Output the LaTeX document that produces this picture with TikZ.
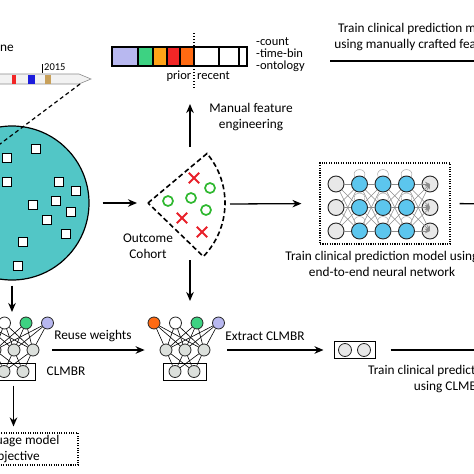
\documentclass[tikz,border=0pt]{standalone}
\usepackage{fontspec}
\setmainfont{Carlito}
\usetikzlibrary{arrows.meta,positioning,calc,shapes.misc}
\definecolor{poolteal}{HTML}{52C6C6}
\definecolor{lavend}{HTML}{B8B8F0}
\definecolor{codegreen}{HTML}{3DD282}
\definecolor{amber}{HTML}{FFA318}
\definecolor{codered}{HTML}{F22626}
\definecolor{codeorange}{HTML}{FF6A12}
\definecolor{codeblue}{HTML}{1C1CDC}
\definecolor{codetan}{HTML}{C8A05A}
\definecolor{unitblue}{HTML}{5CC6EE}
\definecolor{unitgrey}{HTML}{E8E8E8}
\definecolor{hiddengrey}{HTML}{DCE0DC}
\definecolor{casered}{HTML}{E8202A}
\definecolor{ctrlgreen}{HTML}{2FB830}
\tikzset{
  % Arrows and connectors
  flow/.style={-{Stealth[length=9pt,width=7.5pt]},line width=1.3pt},
  % Text
  lbl/.style={font=\fontsize{13.3}{16}\selectfont,align=center,inner sep=0pt},
  small/.style={font=\fontsize{12.5}{12}\selectfont,inner sep=0pt},
  % Patient pool
  pool/.style={circle,draw,line width=1.2pt,fill=poolteal,minimum size=154pt,inner sep=0pt},
  patient/.style={draw,line width=1pt,fill=white,minimum size=9pt,inner sep=0pt},
  % Feature vector cells
  cell/.style={draw,line width=1.2pt,minimum height=19pt,inner sep=0pt},
  % Cohort markers
  case/.style={cross out,draw=casered,line width=1.9pt,minimum size=8.5pt,inner sep=0pt},
  ctrl/.style={circle,draw=ctrlgreen,line width=1.7pt,minimum size=10pt,inner sep=0pt},
  % End-to-end network
  unit/.style={circle,draw=black!85,line width=0.9pt,minimum size=16pt,inner sep=0pt},
  wire/.style={black!45,line width=0.6pt},
  loopwire/.style={black!35,line width=0.5pt},
  dotbox/.style={draw,line width=1.1pt,dash pattern=on 1.1pt off 1.3pt,inner sep=0pt},
  % CLMBR
  cu/.style={circle,draw=black!85,line width=0.8pt,minimum size=12pt,inner sep=0pt},
  cwire/.style={black,line width=0.6pt},
  cbox/.style={draw,line width=1pt,minimum width=43pt,minimum height=17pt,inner sep=0pt}
}

\begin{document}
\begin{tikzpicture}[x=1pt,y=-1pt]
  \useasboundingbox (0,0) rectangle (474,474);

  % Timeline
  \node[lbl,anchor=east] (tltitle) at (14,47) {Timeline};
  \draw[draw=black!45,fill=black!5,line width=0.6pt]
    (-10,74) -- (79,74) -- (91,79) -- (79,84) -- (-10,84) -- cycle;
  \fill[codered] (12,74.5) rectangle (16,83.5);
  \fill[codeblue] (28,74.5) rectangle (35,83.5);
  \fill[codetan] (45,74.5) rectangle (51,83.5);
  \draw[line width=1pt] (42,64) -- (42,73);
  \node[small,anchor=west,font=\fontsize{10.5}{11}\selectfont] (yr) at (44,67) {2015};
  \coordinate (tlend) at (80,84);
  \coordinate (zoomto) at (-4,147);

  % Patient pool
  \node[pool] (pool) at (12,203) {};
  \foreach \px/\py [count=\i] in {36/149,7/158,7/182,59/182,76/191,33/205,56/201,71/212,47/220,66/234,23/242,18/266}
    \node[patient] (pt\i) at (\px,\py) {};
  \draw[line width=1.2pt,dash pattern=on 4pt off 3pt] (tlend) -- (zoomto);

  % Feature vector
  \node[cell,fill=lavend,minimum width=26pt] (f1) at (125,56.5) {};
  \node[cell,fill=codegreen,minimum width=15pt] (f2) at (145.5,56.5) {};
  \node[cell,fill=amber,minimum width=14pt] (f3) at (160,56.5) {};
  \node[cell,fill=codered,minimum width=13pt] (f4) at (173.5,56.5) {};
  \node[cell,fill=codeorange,minimum width=14pt] (f5) at (187,56.5) {};
  \node[cell,fill=white,minimum width=25pt] (f6) at (206.5,56.5) {};
  \node[cell,fill=white,minimum width=20pt] (f7) at (229,56.5) {};
  \node[cell,fill=white,minimum width=8pt] (f8) at (243,56.5) {};
  \draw[line width=1.2pt,dash pattern=on 1.2pt off 1.8pt] (194,33) -- (194,88);
  \node[small,anchor=east] (prior) at (191.5,76) {prior};
  \node[small,anchor=west] (recent) at (197,76) {recent};
  \node[small,anchor=west,align=left] (aggr) at (256,55) {-count\\-time-bin\\-ontology};

  % Manual features branch
  \node[lbl] (mfe) at (251,117) {Manual feature\\engineering};
  \node[lbl] (toptxt) at (419,37) {Train clinical prediction model\\using manually crafted features};
  \coordinate (topS) at (330,61);
  \coordinate (topE) at (495,61);
  \draw[flow] (topS) -- (topE);

  % Outcome cohort
  \coordinate (apex) at (148,203);
  \draw[line width=1.6pt,dash pattern=on 5pt off 3pt]
    (apex) -- ++(-40:77) arc[start angle=-40,end angle=44,radius=77] -- cycle;
  \node[case] (x1) at (194,178) {};
  \node[case] (x2) at (182,218) {};
  \node[case] (x3) at (202,232) {};
  \node[ctrl] (o1) at (168,201) {};
  \node[ctrl] (o2) at (191,198) {};
  \node[ctrl] (o3) at (210,188) {};
  \node[ctrl] (o4) at (206,210) {};
  \node[lbl] (cohlbl) at (148,246) {Outcome\\Cohort};

  \draw[flow,shorten <=13pt,shorten >=11pt] (pool.east) -- (apex);
  \coordinate (cohN) at (190,147);
  \coordinate (fvS) at (190,104);
  \draw[flow] (cohN) -- (fvS);
  \coordinate (cohS) at (190,260);
  \coordinate (clmbrIn) at (190,301);
  \draw[flow] (cohS) -- (clmbrIn);

  % End-to-end neural network
  \node[dotbox,minimum width=130pt,minimum height=81pt] (nnbox) at (385,203.5) {};
  \foreach \r/\y in {1/184,2/207.5,3/231} {
    \node[unit,fill=unitgrey] (n1\r) at (336,\y) {};
    \node[unit,fill=unitblue] (n2\r) at (359.5,\y) {};
    \node[unit,fill=unitblue] (n3\r) at (383,\y) {};
    \node[unit,fill=unitblue] (n4\r) at (406.5,\y) {};
    \node[unit,fill=unitgrey] (n5\r) at (430,\y) {};
  }
  \foreach \c/\d in {1/2,2/3,3/4}
    \foreach \r in {1,2,3}
      \foreach \s in {1,2,3}
        \draw[wire] (n\c\r) -- (n\d\s);
  \foreach \r in {1,2,3}
    \foreach \s in {1,2,3}
      \draw[wire,-{Stealth[length=5pt,width=4.5pt]}] (n4\r) -- (n5\s.center);
  \foreach \c in {2,3,4}
    \foreach \r in {1,2,3}
      \draw[loopwire] (n\c\r.125) .. controls +(-4,-10) and +(4,-10) .. (n\c\r.55);
  \node[lbl] (nncap) at (382,264) {Train clinical prediction model using\\end-to-end neural network};
  \coordinate (cohE) at (230,204);
  \draw[flow,shorten >=18pt] (cohE) -- (nnbox.west);
  \coordinate (nnE) at (495,204);
  \draw[flow,shorten <=9pt] (nnbox.east) -- (nnE);

  % CLMBR networks
  \foreach \net/\dx in {a/-171,b/0} {
    \node[cbox] (\net-box) at (184.5+\dx,371.5) {};
    \foreach \i/\x/\col in {1/154/codeorange,2/175.5/white,3/197/codegreen,4/218.5/lavend}
      \node[cu,fill=\col] (\net-t\i) at (\x+\dx,323) {};
    \foreach \i/\x in {1/166,2/185,3/204}
      \node[cu,fill=hiddengrey] (\net-m\i) at (\x+\dx,350) {};
    \foreach \i/\x in {1/175,2/194}
      \node[cu,fill=hiddengrey] (\net-b\i) at (\x+\dx,371.5) {};
    \foreach \i in {1,2,3,4}
      \foreach \j in {1,2,3}
        \draw[cwire] (\net-t\i) -- (\net-m\j);
    \foreach \j in {1,2,3}
      \foreach \k in {1,2}
        \draw[cwire] (\net-m\j) -- (\net-b\k);
  }
  \node[lbl] (clmbrlbl) at (66,371) {CLMBR};
  \node[lbl] (reuse) at (93,336) {Reuse weights};
  \node[lbl] (extract) at (265,336) {Extract CLMBR};
  \coordinate (aIn) at (12,312);
  \draw[flow,shorten <=5pt] (pool.south) -- (aIn);
  \draw[flow,shorten <=13pt,shorten >=15pt] (a-m3.east) -- (b-m1.west);

  % Extracted representation
  \node[cbox,minimum width=41pt] (emb) at (354.5,350) {};
  \node[cu,fill=unitgrey,minimum size=13pt] (e1) at (345,350) {};
  \node[cu,fill=unitgrey,minimum size=13pt] (e2) at (364,350) {};
  \draw[flow,shorten <=17pt,shorten >=10pt] (b-m3.east) -- (emb.west);
  \coordinate (embE) at (495,350);
  \draw[flow,shorten <=15pt] (emb.east) -- (embE);
  \node[lbl] (clmbrcap) at (449,379) {Train clinical prediction model\\using CLMBR};

  % Pretraining objective
  \node[dotbox,minimum width=130pt,minimum height=32pt] (lmobj) at (13,449) {};
  \node[lbl] (lmtxt) at (15,449) {Language model\\objective};
  \draw[flow,shorten <=5pt,shorten >=6pt] (a-box.south) -- (a-box.south |- lmobj.north);
\end{tikzpicture}
\end{document}
